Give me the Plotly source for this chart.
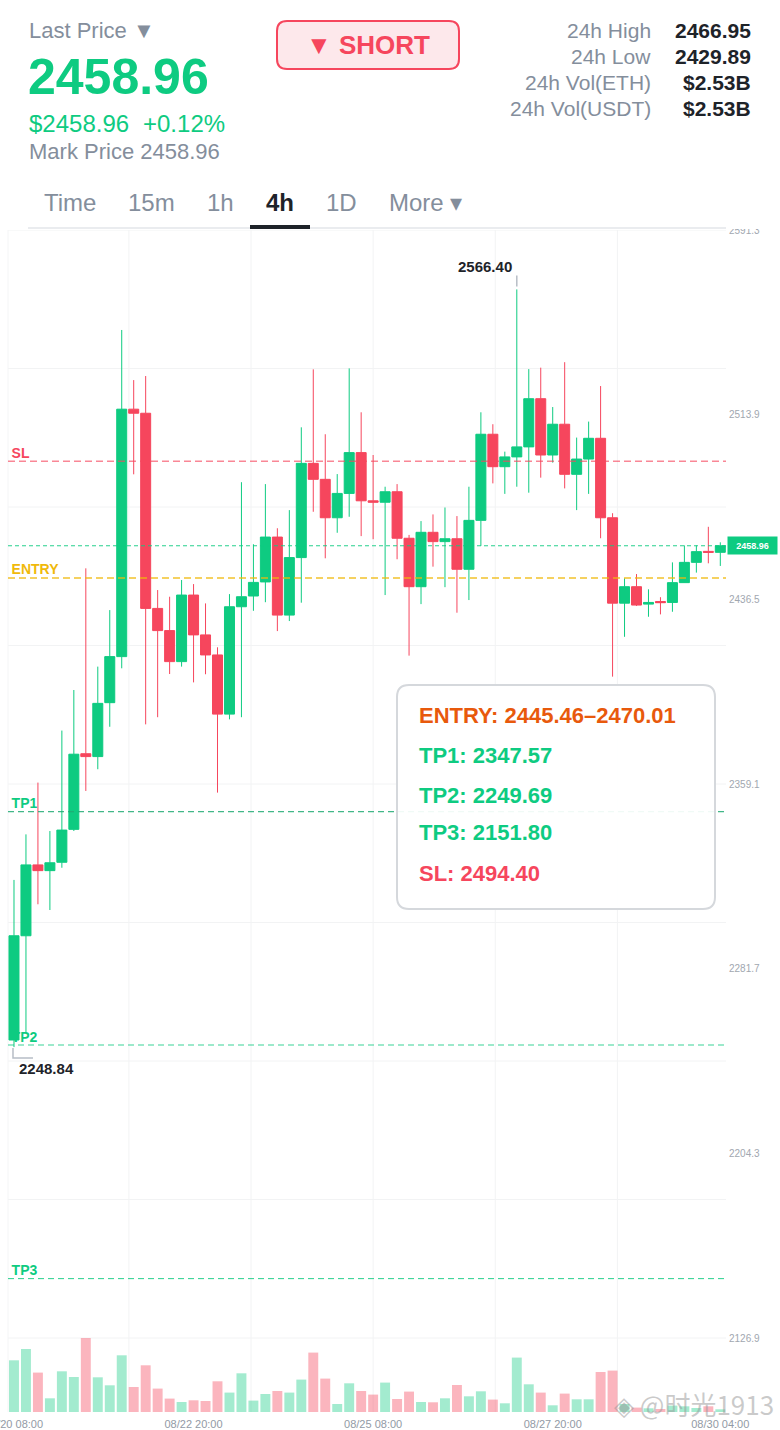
import pandas as pd
import plotly.graph_objects as go

W, H = 780, 1430

# ---------------- data ----------------
dates = pd.date_range("2024-08-20 08:00", periods=60, freq="4h")

opens = [2251.8, 2295.5, 2325.2, 2322.8, 2326.3, 2340.1, 2371.8, 2370.6, 2393.2, 2412.5,
         2516.2, 2514.5, 2432.7, 2423.4, 2410.4, 2438.3, 2421.6, 2413.2, 2388.4, 2433.4,
         2437.9, 2443.8, 2462.6, 2429.9, 2454.0, 2493.5, 2486.8, 2470.7, 2480.9, 2498.0,
         2477.8, 2477.2, 2481.6, 2462.1, 2441.8, 2464.6, 2460.7, 2461.9, 2449.1, 2469.6,
         2505.7, 2492.1, 2496.2, 2500.4, 2520.6, 2497.0, 2509.9, 2488.9, 2495.3, 2504.0,
         2470.7, 2434.9, 2441.8, 2434.5, 2435.6, 2435.2, 2443.5, 2452.0, 2456.6, 2456.2]
highs = [2318.9, 2338.0, 2359.7, 2339.4, 2381.5, 2398.5, 2449.5, 2408.3, 2432.0, 2549.4,
         2528.4, 2530.1, 2440.4, 2437.6, 2444.6, 2442.9, 2434.8, 2416.4, 2438.7, 2485.6,
         2459.6, 2484.8, 2466.3, 2473.9, 2508.6, 2532.9, 2505.7, 2489.0, 2533.3, 2514.9,
         2497.0, 2483.7, 2484.8, 2463.5, 2469.3, 2472.1, 2475.0, 2471.4, 2483.7, 2514.9,
         2509.9, 2498.4, 2566.40, 2533.0, 2533.6, 2517.1, 2535.9, 2504.3, 2511.0, 2525.9,
         2472.6, 2445.3, 2447.1, 2440.7, 2437.4, 2452.0, 2459.1, 2459.1, 2466.9, 2460.4]
lows = [2248.84, 2254.8, 2308.7, 2306.3, 2324.0, 2339.4, 2356.2, 2365.3, 2383.1, 2407.6,
        2488.9, 2384.1, 2387.1, 2405.2, 2408.3, 2401.7, 2405.1, 2355.5, 2386.2, 2387.1,
        2431.7, 2435.3, 2423.2, 2427.4, 2435.1, 2473.2, 2453.7, 2464.4, 2471.1, 2463.0,
        2461.7, 2438.3, 2453.3, 2412.9, 2434.5, 2450.2, 2441.6, 2430.9, 2436.2, 2458.9,
        2485.1, 2480.7, 2483.7, 2481.2, 2487.5, 2493.8, 2483.0, 2473.9, 2480.7, 2462.1,
        2404.1, 2420.8, 2433.7, 2429.2, 2430.2, 2431.3, 2443.5, 2447.7, 2451.6, 2450.5]
closes = [2295.5, 2325.2, 2322.8, 2326.1, 2339.8, 2371.6, 2370.6, 2392.9, 2412.5, 2516.2,
          2514.5, 2432.7, 2423.4, 2410.4, 2438.3, 2421.6, 2413.2, 2388.4, 2433.4, 2437.6,
          2443.6, 2462.6, 2429.9, 2454.0, 2493.5, 2486.8, 2470.7, 2480.9, 2498.0, 2477.8,
          2477.2, 2481.6, 2462.1, 2441.8, 2464.6, 2460.7, 2461.9, 2449.1, 2469.6, 2505.7,
          2492.1, 2496.2, 2500.4, 2520.6, 2497.0, 2509.9, 2488.9, 2495.3, 2504.0, 2470.7,
          2434.9, 2441.8, 2434.1, 2435.2, 2435.1, 2443.5, 2452.0, 2456.5, 2456.2, 2458.96]
# volume (k ETH)
volumes = [51.7, 63.0, 39.4, 13.7, 40.7, 35.0, 74.0, 34.7, 26.7, 56.7,
           25.0, 46.7, 23.4, 13.4, 10.0, 11.7, 11.0, 30.7, 19.4, 38.7,
           11.4, 18.0, 21.0, 19.4, 32.4, 59.4, 33.4, 8.0, 28.7, 21.0,
           17.4, 29.4, 13.0, 20.4, 10.0, 9.7, 13.7, 27.0, 15.7, 20.7,
           12.4, 8.7, 54.4, 27.7, 19.4, 6.7, 18.4, 12.7, 12.7, 40.0,
           41.4, 8.0, 4.4, 3.7, 3.0, 6.4, 5.7, 4.0, 5.7, 2.7]

LAST = 2458.96
ENTRY_LOW, ENTRY_HIGH = 2445.46, 2470.01
TP1, TP2, TP3 = 2347.57, 2249.69, 2151.80
SL = 2494.40
HIGH_24H, LOW_24H = "2466.95", "2429.89"
VOL_ETH, VOL_USDT = "$2.53B", "$2.53B"

y_ticks = [2126.9, 2204.3, 2281.7, 2359.1, 2436.5, 2513.9, 2591.3]
y_grid = [2126.9, 2184.95, 2243.0, 2301.05, 2359.1, 2417.15, 2475.2, 2533.25, 2591.3]
x_tick_idx = [0, 15, 30, 45, 59]
x_grid_hours = [38.4, 79.2, 120.0, 160.8, 201.6]

tabs = ["Time", "15m", "1h", "4h", "1D", "More \u25be"]
tab_x = [70, 151, 220, 280, 341, 426]

GREEN = "#0ecb81"
RED = "#f6465d"
YELLOW = "#f0b90b"
GRAY = "#848e9c"
DARK = "#1e2329"
FONT = "Liberation Sans, Arial, sans-serif"


def PX(x):
    return x / W


def PY(y):
    return 1 - y / H


def rounded(x0, y0, x1, y1, r):
    pts = [("M", x0 + r, y0), ("L", x1 - r, y0), ("Q", x1, y0, x1, y0 + r),
           ("L", x1, y1 - r), ("Q", x1, y1, x1 - r, y1), ("L", x0 + r, y1),
           ("Q", x0, y1, x0, y1 - r), ("L", x0, y0 + r), ("Q", x0, y0, x0 + r, y0)]
    s = ""
    for p in pts:
        vals = p[1:]
        coords = []
        for k in range(0, len(vals), 2):
            coords.append("%.5f,%.5f" % (PX(vals[k]), PY(vals[k + 1])))
        s += p[0] + " ".join(coords) + " "
    return s + "Z"


x0_date = dates[0]
x_range = [x0_date - pd.Timedelta(hours=2), x0_date + pd.Timedelta(hours=237.9)]
y_range = [2095.9, 2591.3]

fig = go.Figure()

# level labels on the base axis (candles draw over them)
lbl_x = x0_date - pd.Timedelta(hours=0.8)
fig.add_trace(go.Scatter(
    x=[lbl_x] * 5, y=[SL, ENTRY_LOW, TP1, TP2, TP3],
    mode="text", text=["<b>SL</b>", "<b>ENTRY</b>", "<b>TP1</b>", "<b>TP2</b>", "<b>TP3</b>"],
    textposition="top right",
    textfont=dict(size=14, color=[RED, YELLOW, GREEN, GREEN, GREEN], family=FONT),
    hoverinfo="skip", cliponaxis=False))

fig.add_trace(go.Candlestick(
    x=dates, open=opens, high=highs, low=lows, close=closes, yaxis="y2",
    increasing=dict(line=dict(color=GREEN, width=1), fillcolor=GREEN),
    decreasing=dict(line=dict(color=RED, width=1), fillcolor=RED),
    whiskerwidth=0, hoverinfo="skip"))

vol_colors = ["rgba(14,203,129,0.38)" if c >= o else "rgba(246,70,93,0.4)"
              for o, c in zip(opens, closes)]
fig.add_trace(go.Bar(x=dates, y=volumes, yaxis="y3", marker_color=vol_colors,
                     marker_line_width=0, hoverinfo="skip"))

shapes = []
# grid
for g in y_grid:
    shapes.append(dict(type="line", xref="paper", yref="y", x0=PX(8), x1=PX(726), y0=g, y1=g,
                       line=dict(color="#f2f3f4", width=1), layer="below"))
for hh in x_grid_hours:
    gx = x0_date + pd.Timedelta(hours=hh)
    shapes.append(dict(type="line", xref="x", yref="paper", x0=gx, x1=gx, y0=PY(1412), y1=PY(230),
                       line=dict(color="#f2f3f4", width=1), layer="below"))
shapes.append(dict(type="line", xref="paper", yref="paper", x0=PX(8), x1=PX(8), y0=PY(1412), y1=PY(230),
                   line=dict(color="#f4f5f6", width=1), layer="below"))

# level lines
levels = [
    (SL, "rgba(246,70,93,0.65)", 1.5, "7px,4px"),
    (ENTRY_LOW, "rgba(240,185,11,0.65)", 2, "7px,4px"),
    (LAST, "rgba(14,203,129,0.9)", 1, "4px,3px"),
    (TP1, "rgba(32,170,115,0.85)", 1.2, "6px,4px"),
    (TP2, "rgba(14,203,129,0.55)", 1.5, "6px,4px"),
    (TP3, "rgba(14,203,129,0.9)", 1, "6px,4px"),
]
for lv, col, wd, dash in levels:
    shapes.append(dict(type="line", xref="paper", yref="y", x0=PX(8), x1=PX(726), y0=lv, y1=lv,
                       line=dict(color=col, width=wd, dash=dash), layer="above"))

# high / low markers
hi_i = highs.index(max(highs))
lo_i = lows.index(min(lows))
shapes.append(dict(type="line", xref="x", yref="y", ysizemode="pixel",
                   yanchor=highs[hi_i], x0=dates[hi_i], x1=dates[hi_i],
                   y0=3, y1=14, line=dict(color="#b7bdc6", width=1.5), layer="above"))
shapes.append(dict(type="path", xref="x", yref="y", xsizemode="pixel", ysizemode="pixel",
                   xanchor=dates[lo_i], yanchor=lows[lo_i],
                   path="M-1,-1 L-1,-11 L19,-11", line=dict(color="#b7bdc6", width=1.5), layer="above"))

# info box
shapes.append(dict(type="path", xref="paper", yref="paper", path=rounded(397, 685, 715, 909, 12),
                   fillcolor="rgba(255,255,255,0.92)", line=dict(color="#d5d8dc", width=2), layer="above"))

# header cover + tabs + button
shapes.append(dict(type="rect", xref="paper", yref="paper", x0=0, x1=1, y0=PY(229), y1=1,
                   fillcolor="white", line=dict(width=0), layer="above"))
shapes.append(dict(type="line", xref="paper", yref="paper", x0=PX(28), x1=PX(726), y0=PY(228), y1=PY(228),
                   line=dict(color="#eaecef", width=2), layer="above"))
shapes.append(dict(type="rect", xref="paper", yref="paper", x0=PX(250), x1=PX(310), y0=PY(229), y1=PY(225),
                   fillcolor=DARK, line=dict(width=0), layer="above"))
shapes.append(dict(type="path", xref="paper", yref="paper", path=rounded(277, 21, 459, 69, 10),
                   fillcolor="#fde8eb", line=dict(color=RED, width=2), layer="above"))

ann = []


def txt(x, y, text, size, color, anchor="left", bold=False, family=FONT):
    ann.append(dict(xref="paper", yref="paper", x=PX(x), y=PY(y), text=("<b>%s</b>" % text) if bold else text,
                    showarrow=False, xanchor=anchor, yanchor="middle",
                    font=dict(size=size, color=color, family=family)))


txt(27, 31, "Last Price \u25bc", 22, GRAY)
txt(26, 77, "%.2f" % LAST, 50, GREEN, bold=True)
txt(27, 124, "$%.2f" % LAST, 24, GREEN)
txt(141, 124, "+0.12%", 24, GREEN)
txt(27, 152, "Mark Price %.2f" % LAST, 22, GRAY)
txt(368, 45, "\u25bc SHORT", 26, RED, anchor="center", bold=True)

stat_labels = ["24h High", "24h Low", "24h Vol(ETH)", "24h Vol(USDT)"]
stat_values = [HIGH_24H, LOW_24H, VOL_ETH, VOL_USDT]
for k, (lab, val) in enumerate(zip(stat_labels, stat_values)):
    yy = [31, 57, 83, 109][k]
    txt(653, yy, lab, 21, GRAY, anchor="right")
    txt(753, yy, val, 21, DARK, anchor="right", bold=True)

for t, tx in zip(tabs, tab_x):
    if t == "4h":
        txt(tx, 202, t, 24, DARK, anchor="center", bold=True)
    else:
        txt(tx, 202, t, 24, GRAY, anchor="center")

# info box text
info = [("ENTRY: %.2f\u2013%.2f" % (ENTRY_LOW, ENTRY_HIGH), "#e8590c"),
        ("TP1: %.2f" % TP1, GREEN), ("TP2: %.2f" % TP2, GREEN),
        ("TP3: %.2f" % TP3, GREEN), ("SL: %.2f" % SL, RED)]
for (t, c), yy in zip(info, [715, 755, 795, 833, 873]):
    txt(417, yy, t, 22, c, bold=True)

# hi / lo labels
ann.append(dict(x=dates[hi_i], y=highs[hi_i], xref="x", yref="y", text="<b>%.2f</b>" % highs[hi_i],
                showarrow=False, xanchor="right", yanchor="middle", xshift=-3, yshift=23,
                font=dict(size=15, color=DARK, family=FONT)))
ann.append(dict(x=dates[lo_i], y=lows[lo_i], xref="x", yref="y", text="<b>%.2f</b>" % lows[lo_i],
                showarrow=False, xanchor="left", yanchor="middle", xshift=3, yshift=-21,
                font=dict(size=15, color=DARK, family=FONT)))

# last price tag
ann.append(dict(x=PX(727), y=LAST, xref="paper", yref="y", text="<b>%.2f</b>" % LAST,
                showarrow=False, xanchor="left", yanchor="middle", bgcolor=GREEN,
                font=dict(size=9, color="white", family=FONT), width=45, height=13, borderpad=2))

# watermark
ann.append(dict(x=PX(612), y=PY(1403), xref="paper", yref="paper", text="\u25c8 @\u65f6\u51491913",
                showarrow=False, xanchor="left", yanchor="middle",
                font=dict(size=26, color="rgba(150,150,150,0.5)", family="Noto Sans CJK SC")))

fig.update_layout(
    width=W, height=H, margin=dict(l=0, r=0, t=0, b=0),
    paper_bgcolor="white", plot_bgcolor="white", showlegend=False, hovermode=False,
    font=dict(family=FONT),
    boxgap=0.165, boxgroupgap=0, bargap=0.17,
    shapes=shapes, annotations=ann,
    xaxis=dict(type="date", domain=[PX(8), PX(726)], range=x_range, showgrid=False, zeroline=False,
               rangeslider=dict(visible=False), tickmode="array",
               tickvals=[dates[i] for i in x_tick_idx],
               ticktext=[dates[i].strftime("%m/%d %H:%M") for i in x_tick_idx],
               tickfont=dict(size=11, color="#929aa5"), ticks="", ticklabeloverflow="allow",
               ticklabelstandoff=4, automargin=False, fixedrange=True),
    yaxis=dict(domain=[1 - 1412 / H, 1 - 230 / H], range=y_range, side="right", showgrid=False,
               zeroline=False, tickmode="array", tickvals=y_ticks,
               ticktext=["%.1f" % v for v in y_ticks], tickfont=dict(size=10, color="#a1a7af"),
               ticks="", ticklabelstandoff=2, automargin=False, ticklabeloverflow="allow"),
    yaxis2=dict(overlaying="y", range=y_range, visible=False),
    yaxis3=dict(overlaying="y", range=[0, 1182], visible=False),
)

# page has a default 8px body margin; drop it so the figure fills the window
fig.write_html("out.html", config={"displayModeBar": False},
               post_script="document.body.style.margin='0';document.body.style.overflow='hidden';")
